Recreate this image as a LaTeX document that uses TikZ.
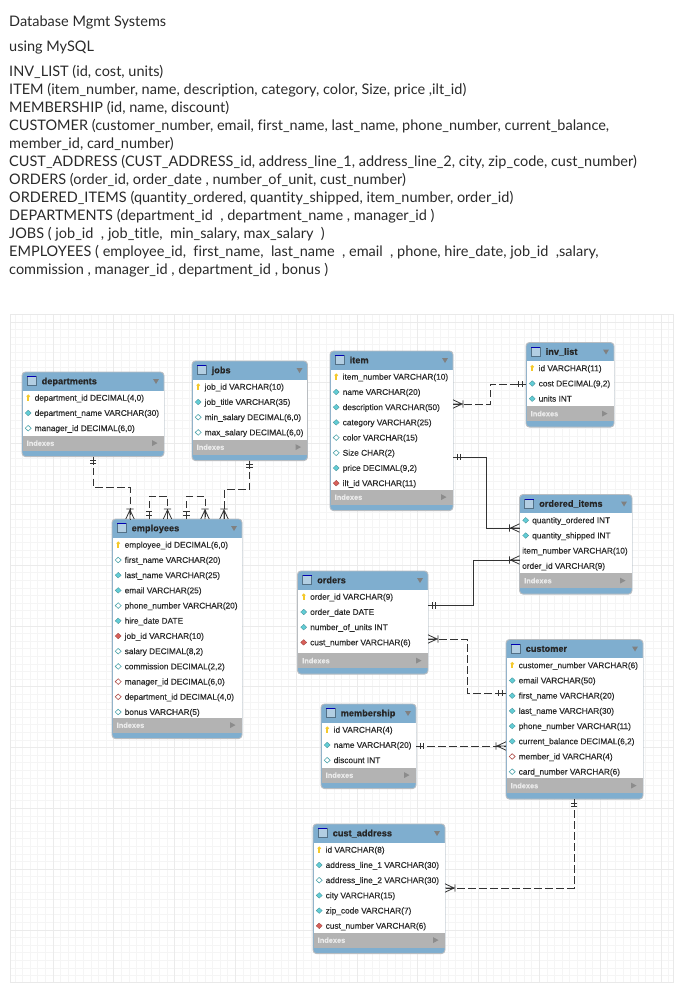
\documentclass[tikz,border=0pt]{standalone}
\usepackage{fontspec}
\setmainfont[Ligatures=NoCommon]{Lato}
\newfontfamily\erfont[FakeBold=0.2]{Liberation Sans}
\newfontfamily\ertitle[FakeBold=0.3]{Liberation Sans Bold}
\usetikzlibrary{calc}
\definecolor{hdr}{HTML}{7FAECF}
\definecolor{rim}{HTML}{B9BDC1}
\definecolor{idx}{HTML}{B3B3B3}
\definecolor{gmin}{HTML}{F5F5F5}
\definecolor{gmaj}{HTML}{EBEBEB}
\definecolor{txt}{HTML}{2A2A2A}
\definecolor{ink}{HTML}{333333}
\definecolor{cyanicon}{HTML}{62CDD6}
\definecolor{redicon}{HTML}{D9605A}
\definecolor{keyicon}{HTML}{F4C92B}
\newcount\erRow
\def\whextra{0}
\tikzset{
  headline/.style={anchor=base west,inner sep=0pt,text=txt,font=\fontsize{14.5}{16}\selectfont},
  tablebox/.style={draw=rim,line width=0.9pt,fill=hdr,rounded corners=3.5pt,anchor=north west,inner sep=0pt,outer sep=0pt},
  rowtext/.style={anchor=base west,inner sep=0pt,text=txt,font=\erfont\fontsize{8.3}{9}\selectfont},
  titletext/.style={anchor=base west,inner sep=0pt,text=black!85,font=\ertitle\fontsize{9.2}{10}\selectfont},
  idxtext/.style={anchor=base west,inner sep=0pt,text=white!92!black,font=\erfont\bfseries\fontsize{7.4}{9}\selectfont},
  rel/.style={draw=ink,line width=0.9pt,dash pattern=on 7.5pt off 3.5pt},
  relsolid/.style={draw=ink,line width=0.9pt},
  tick/.style={draw=ink,line width=0.8pt},
  crow/.pic={\draw[tick] (0,-4.2)--(9,0)--(0,4.2) (9,0)--(0,0) (10,-3.6)--(10,3.6);},
  bars/.pic={\draw[tick] (0,0)--(8,0) (4,-3.2)--(4,3.2) (7.2,-3.2)--(7.2,3.2);},
}
\newcommand{\ertable}[7]{%
  \pgfmathsetmacro{\tx}{#2}\pgfmathsetmacro{\ty}{#3}\pgfmathsetmacro{\tw}{#4}%
  \pgfmathsetmacro{\whb}{\ty+18.6+15*#5+\whextra}%
  \pgfmathsetmacro{\tb}{\whb+21}%
  \def\tn{#1}%
  \node[tablebox,minimum width=#4 pt,minimum height=\tb pt-\ty pt] (#1) at (\tx,\ty) {};
  \fill[white] (\tx+0.5,\ty+18.6) rectangle (\tx+\tw-0.5,\whb);
  \fill[idx] (\tx+0.5,\whb) rectangle (\tx+\tw-0.5,\whb+15);
  % table icon
  \fill[hdr!60!white,draw=black!35!hdr,line width=0.4pt] (\tx+5,\ty+4.5) rectangle (\tx+14,\ty+13.5);
  \draw[blue!70!black,line width=0.9pt] (\tx+5,\ty+4.7)--(\tx+14,\ty+4.7);
  \node[titletext] (#1-title) at (\tx+19.5,\ty+12.3) {#6};
  \fill[black!50] (\tx+\tw-11,\ty+7)--(\tx+\tw-5,\ty+7)--(\tx+\tw-8,\ty+12)--cycle;
  \node[idxtext] (#1-idx) at (\tx+4.5,\whb+10.2) {Indexes};
  \fill[black!45] (\tx+\tw-12,\whb+4.5)--(\tx+\tw-6.5,\whb+7.5)--(\tx+\tw-12,\whb+10.5)--cycle;
  \global\erRow=0
  #7
}
\newcommand{\rowy}{\pgfmathsetmacro{\ry}{\ty+25.8+15.2*(\the\erRow-1)}}
\newcommand{\dia}[2]{\path[#1,#2] (\tx+3.2,\ry)--(\tx+6.2,\ry-2.8)--(\tx+9.2,\ry)--(\tx+6.2,\ry+2.8)--cycle;}
\newcommand{\rowlabel}[1]{\node[rowtext] (\tn-r\the\erRow) at (\tx+12.5,\ry+2.9) {#1};}
\newcommand{\rK}[1]{\global\advance\erRow by 1 \rowy
  \fill[keyicon] (\tx+6.2,\ry-1.6) circle (1.9);
  \fill[keyicon] (\tx+5.2,\ry-1.5) rectangle (\tx+7.2,\ry+3);
  \rowlabel{#1}}
\newcommand{\rF}[1]{\global\advance\erRow by 1 \rowy \dia{fill=cyanicon}{draw=cyanicon!70!black,line width=0.3pt}\rowlabel{#1}}
\newcommand{\rE}[1]{\global\advance\erRow by 1 \rowy \dia{fill=white}{draw=cyanicon!80!black,line width=0.6pt}\rowlabel{#1}}
\newcommand{\rR}[1]{\global\advance\erRow by 1 \rowy \dia{fill=redicon}{draw=redicon!70!black,line width=0.3pt}\rowlabel{#1}}
\newcommand{\rH}[1]{\global\advance\erRow by 1 \rowy \dia{fill=white}{draw=redicon!80!black,line width=0.6pt}\rowlabel{#1}}
\newcommand{\rN}[1]{\global\advance\erRow by 1 \rowy \node[rowtext] (\tn-r\the\erRow) at (\tx+2.5,\ry+2.9) {#1};}
\begin{document}
\begin{tikzpicture}[x=1pt,y=-1pt]
\useasboundingbox (0,0) rectangle (685,987);
\fill[white] (0,0) rectangle (685,987);
% headline text
\node[headline] (h1) at (9,26.8) {Database Mgmt Systems};
\node[headline] (h2) at (9,51.8) {using MySQL};
\node[headline] (h3) at (9,76.8) {INV\_LIST (id, cost, units)};
\node[headline] (h4) at (9,94.8) {ITEM (item\_number, name, description, category, color, Size, price ,ilt\_id)};
\node[headline] (h5) at (9,112.8) {MEMBERSHIP (id, name, discount)};
\node[headline] (h6) at (9,130.8) {CUSTOMER (customer\_number, email, first\_name, last\_name, phone\_number, current\_balance,};
\node[headline] (h7) at (9,148.8) {member\_id, card\_number)};
\node[headline] (h8) at (9,166.8) {CUST\_ADDRESS (CUST\_ADDRESS\_id, address\_line\_1, address\_line\_2, city, zip\_code, cust\_number)};
\node[headline] (h9) at (9,184.8) {ORDERS (order\_id, order\_date , number\_of\_unit, cust\_number)};
\node[headline] (h10) at (9,202.8) {ORDERED\_ITEMS (quantity\_ordered, quantity\_shipped, item\_number, order\_id)};
\node[headline] (h11) at (9,220.8) {DEPARTMENTS (department\_id~ , department\_name , manager\_id )};
\node[headline] (h12) at (9,238.8) {JOBS ( job\_id~ , job\_title,~ min\_salary, max\_salary~ )};
\node[headline] (h13) at (9,256.8) {EMPLOYEES ( employee\_id,~ first\_name,~ last\_name~ , email~ , phone, hire\_date, job\_id~ ,salary,};
\node[headline] (h14) at (9,274.8) {commission , manager\_id , department\_id , bonus )};
% grid
\begin{scope}
\clip (10,314) rectangle (673,982);
\foreach \i in {-1,...,90} \draw[gmin,line width=0.7pt] (7.4+7.6*\i,314)--(7.4+7.6*\i,982);
\foreach \i in {-1,...,90} \draw[gmin,line width=0.7pt] (10,322+7.6*\i)--(673,322+7.6*\i);
\foreach \i in {0,...,11} \draw[gmaj,line width=0.8pt] (53+60.8*\i,314)--(53+60.8*\i,982);
\foreach \i in {0,...,11} \draw[gmaj,line width=0.8pt] (10,322+60.8*\i)--(673,322+60.8*\i);
\end{scope}
\draw[gmin!95!black,line width=0.7pt] (10,314) rectangle (673,982);
% tables
\ertable{departments}{22}{372}{142}{3}{departments}{%
  \rK{department\_id DECIMAL(4,0)}\rF{department\_name VARCHAR(30)}\rE{manager\_id DECIMAL(6,0)}}
\ertable{jobs}{192}{361}{115.5}{4}{jobs}{%
  \rK{job\_id VARCHAR(10)}\rF{job\_title VARCHAR(35)}\rE{min\_salary DECIMAL(6,0)}\rE{max\_salary DECIMAL(6,0)}}
\ertable{item}{330}{351}{123}{8}{item}{%
  \rK{item\_number VARCHAR(10)}\rF{name VARCHAR(20)}\rF{description VARCHAR(50)}\rF{category VARCHAR(25)}\rE{color VARCHAR(15)}\rE{Size CHAR(2)}\rF{price DECIMAL(9,2)}\rR{ilt\_id VARCHAR(11)}}
\ertable{invlist}{526}{342.5}{88}{3}{inv\_list}{%
  \rK{id VARCHAR(11)}\rF{cost DECIMAL(9,2)}\rF{units INT}}
\ertable{ordereditems}{519.5}{494.5}{112.5}{4}{ordered\_items}{%
  \rF{quantity\_ordered INT}\rF{quantity\_shipped INT}\rN{item\_number VARCHAR(10)}\rN{order\_id VARCHAR(9)}}
\ertable{employees}{112}{519}{130}{12}{employees}{%
  \rK{employee\_id DECIMAL(6,0)}\rE{first\_name VARCHAR(20)}\rF{last\_name VARCHAR(25)}\rF{email VARCHAR(25)}\rE{phone\_number VARCHAR(20)}\rF{hire\_date DATE}\rR{job\_id VARCHAR(10)}\rE{salary DECIMAL(8,2)}\rE{commission DECIMAL(2,2)}\rH{manager\_id DECIMAL(6,0)}\rH{department\_id DECIMAL(4,0)}\rE{bonus VARCHAR(5)}}
\def\whextra{3.5}
\ertable{orders}{297.5}{571}{130.5}{4}{orders}{%
  \rK{order\_id VARCHAR(9)}\rF{order\_date DATE}\rF{number\_of\_units INT}\rR{cust\_number VARCHAR(6)}}
\def\whextra{0}
\ertable{membership}{321}{704}{95}{3}{membership}{%
  \rK{id VARCHAR(4)}\rF{name VARCHAR(20)}\rE{discount INT}}
\ertable{customer}{506}{639.5}{137}{8}{customer}{%
  \rK{customer\_number VARCHAR(6)}\rF{email VARCHAR(50)}\rF{first\_name VARCHAR(20)}\rF{last\_name VARCHAR(30)}\rF{phone\_number VARCHAR(11)}\rF{current\_balance DECIMAL(6,2)}\rH{member\_id VARCHAR(4)}\rE{card\_number VARCHAR(6)}}
\ertable{custaddress}{313}{824}{132}{6}{cust\_address}{%
  \rK{id VARCHAR(8)}\rF{address\_line\_1 VARCHAR(30)}\rE{address\_line\_2 VARCHAR(30)}\rF{city VARCHAR(15)}\rF{zip\_code VARCHAR(7)}\rR{cust\_number VARCHAR(6)}}
% connectors
\coordinate (d1) at ([xshift=71pt]departments.south west);
\coordinate (e1) at ([xshift=18pt]employees.north west);
\draw[rel] (d1) -- ++(0,31) -| (e1);
\pic[rotate=270] at (d1) {bars};
\pic[rotate=90] at (e1) {crow};
\coordinate (e2) at ([xshift=37pt]employees.north west);
\coordinate (e3) at ([xshift=55.5pt]employees.north west);
\draw[rel] (e2) -- ++(0,-23) -| (e3);
\pic[rotate=90] at (e2) {bars};
\pic[rotate=90] at (e3) {crow};
\coordinate (e4) at ([xshift=74.5pt]employees.north west);
\coordinate (e5) at ([xshift=93pt]employees.north west);
\draw[rel] (e4) -- ++(0,-23) -| (e5);
\pic[rotate=90] at (e4) {bars};
\pic[rotate=90] at (e5) {crow};
\coordinate (j1) at ([xshift=57.5pt]jobs.south west);
\coordinate (e6) at ([xshift=112pt]employees.north west);
\draw[rel] (j1) -- ++(0,29) -| (e6);
\pic[rotate=270] at (j1) {bars};
\pic[rotate=90] at (e6) {crow};
\coordinate (i1) at ([yshift=-53pt]item.north east);
\coordinate (v1) at ([yshift=-41.5pt]invlist.north west);
\draw[rel] (i1) -- ++(37,0) |- (v1);
\pic[rotate=0] at (i1) {crow};
\pic[rotate=180] at (v1) {bars};
\coordinate (i2) at ([yshift=-106pt]item.north east);
\coordinate (o1) at ([yshift=-33.5pt]ordereditems.north west);
\draw[relsolid] (i2) -- ++(33,0) |- (o1);
\pic[rotate=0] at (i2) {bars};
\pic[rotate=180] at (o1) {crow};
\coordinate (r1) at ([yshift=-34.5pt]orders.north east);
\coordinate (o2) at ([yshift=-65.5pt]ordereditems.north west);
\draw[relsolid] (r1) -- ++(45,0) |- (o2);
\pic[rotate=0] at (r1) {bars};
\pic[rotate=180] at (o2) {crow};
\coordinate (r2) at ([yshift=-68pt]orders.north east);
\coordinate (c1) at ([yshift=-53.5pt]customer.north west);
\draw[rel] (r2) -- ++(39,0) |- (c1);
\pic[rotate=0] at (r2) {crow};
\pic[rotate=180] at (c1) {bars};
\coordinate (m1) at ([yshift=-42pt]membership.north east);
\coordinate (c2) at ([yshift=-106.5pt]customer.north west);
\draw[rel] (m1) -- (c2);
\pic[rotate=0] at (m1) {bars};
\pic[rotate=180] at (c2) {crow};
\coordinate (c3) at ([xshift=68pt]customer.south west);
\coordinate (a1) at ([yshift=-64pt]custaddress.north east);
\draw[rel] (c3) |- (a1);
\pic[rotate=270] at (c3) {bars};
\pic[rotate=0] at (a1) {crow};
\end{tikzpicture}
\end{document}
